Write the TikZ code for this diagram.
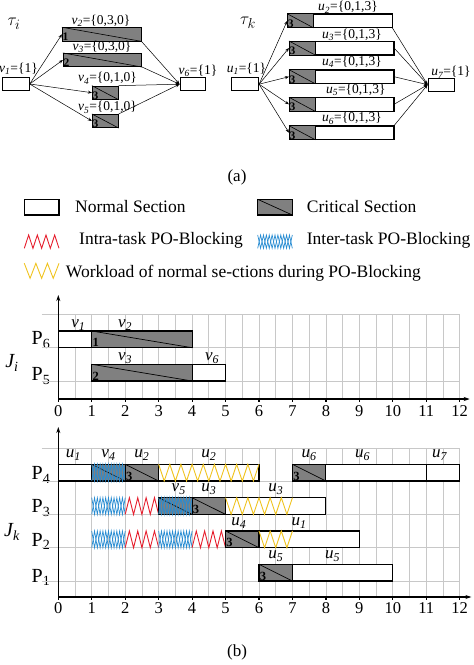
\documentclass[tikz,border=0pt]{standalone}
\usepackage{amsmath}
\usepackage{fontspec}
\setmainfont{Liberation Serif}
\usetikzlibrary{arrows.meta,calc}
\definecolor{critgray}{RGB}{128,128,128}
\definecolor{gridc}{RGB}{200,200,200}
\definecolor{zred}{RGB}{230,30,45}
\definecolor{zblue}{RGB}{40,140,210}
\definecolor{zyel}{RGB}{240,195,30}
\newcommand\iv[2]{$\textit{#1}_{\textit{#2}}$}
\newcommand\rp[2]{$\text{#1}_{\text{#2}}$}
\newcommand\fs[1]{\fontsize{#1}{#1}\selectfont}
\tikzset{
  dagbox/.style={draw, line width=0.8pt, fill=white, minimum height=13.3pt, inner sep=0pt},
  dagcrit/.style={dagbox, fill=critgray},
  edge/.style={line width=0.5pt, -{Stealth[length=4pt,width=3pt]}},
  daglab/.style={font=\fs{13.5}, inner sep=0pt},
  dagnum/.style={font=\bfseries\fs{11.5}, inner sep=0.4pt, anchor=south west},
  barline/.style={line width=1.1pt},
  gridl/.style={gridc, line width=0.8pt},
  axisl/.style={line width=1.2pt},
  barnum/.style={font=\bfseries\fs{12.5}, inner sep=0.6pt, anchor=south west},
  barlab/.style={font=\fs{17}, inner sep=0pt},
  ticklab/.style={font=\fs{16.5}, inner sep=0pt},
  rowlab/.style={font=\fs{20}, inner sep=0pt},
  leglab/.style={font=\fs{17.5}, inner sep=0pt, anchor=west},
  zr/.style={zred, line width=0.9pt},
  zb/.style={zblue, line width=0.7pt},
  zy/.style={zyel, line width=0.9pt},
}
% zigzag: style, x1, start y, other y, period, count
\newcommand\zz[6]{\draw[#1] (#2,#3) \foreach \k in {1,...,#6}{ -- ({#2+(\k-0.5)*#5},#4) -- ({#2+\k*#5},#3)};}
\newcommand\nbar[3]{\draw[barline, fill=white] (#1,#3) rectangle (#2,#3+16.7);}
\newcommand\cbar[4]{\fill[critgray] (#1,#3) rectangle (#2,#3+16.7);
  \draw[line width=0.7pt] (#1,#3) -- (#2,#3+16.7);
  \draw[barline] (#1,#3) rectangle (#2,#3+16.7);
  \node[barnum] at (#1,#3+16.7) {#4};}
\newcommand\bz[3]{\zz{zb}{#1}{#2}{#2+16.7}{0.166667}{#3}\zz{zb}{#1}{#2+16.7}{#2}{0.166667}{#3}}
\newcommand\rz[3]{\zz{zr}{#1}{#2+16.7}{#2}{0.25}{#3}}
\newcommand\yz[3]{\zz{zy}{#1}{#2}{#2+16.7}{0.333333}{#3}}
\begin{document}
\begin{tikzpicture}[x=1pt, y=-1pt]
\useasboundingbox (0,0) rectangle (474,665);
% ---------- (a) tau_i ----------
\node[font=\fs{19}, inner sep=0pt] (ti) at (14,24) {$\tau_i$};
\node[dagbox, minimum width=26.6pt] (v1) at (16,84) {};
\node[dagcrit, minimum width=78.7pt] (v2) at (101.7,34.3) {};
\node[dagcrit, minimum width=78.4pt] (v3) at (102.5,60) {};
\node[dagcrit, minimum width=26pt] (v4) at (105.3,92.7) {};
\node[dagcrit, minimum width=26pt] (v5) at (105.3,121) {};
\node[dagbox, minimum width=25.7pt] (v6) at (192.8,84.2) {};
\foreach \n/\m in {v2/1, v3/2, v4/3, v5/3}{
  \draw[line width=0.6pt] (\n.north west) -- (\n.south east);
  \node[dagnum] at (\n.south west) {\m};
}
\node[daglab] (lv1) at (18.5,69) {\iv{v}{1}=\{1\}};
\node[daglab] (lv2) at (101,20.7) {\iv{v}{2}=\{0,3,0\}};
\node[daglab] (lv3) at (102,46.7) {\iv{v}{3}=\{0,3,0\}};
\node[daglab] (lv4) at (107.5,78.3) {\iv{v}{4}=\{0,1,0\}};
\node[daglab] (lv5) at (107.5,107.3) {\iv{v}{5}=\{0,1,0\}};
\node[daglab] (lv6) at (198,71) {\iv{v}{6}=\{1\}};
\foreach \n in {v2,v3,v4,v5} \draw[edge] (v1.east) -- (\n.west);
\draw[edge] (v2.south east) -- (v6.west);
\draw[edge] (v3.south east) -- (v6.west);
\draw[edge] (v4.north east) -- (v6.west);
\draw[edge] (v5.north east) -- (v6.west);
% ---------- (a) tau_k ----------
\node[font=\fs{19}, inner sep=0pt] (tk) at (248,23) {$\tau_k$};
\node[dagbox, minimum width=27pt] (u1) at (245.2,84.2) {};
\node[dagbox, minimum width=26.3pt] (u7) at (441.2,84.7) {};
\foreach \n/\cx/\cy in {u2/339.8/20.8, u3/341.5/48, u4/341.5/76.7, u5/341.5/104.3, u6/341.5/132.7}{
  \node[dagbox, minimum width=104.3pt] (\n) at (\cx,\cy) {};
  \fill[critgray] (\n.north west) rectangle ($(\n.south west)!0.25!(\n.south east)$);
  \draw[line width=0.6pt] (\n.north west) -- ($(\n.south west)!0.25!(\n.south east)$);
  \draw[line width=0.8pt] ($(\n.north west)!0.25!(\n.north east)$) -- ($(\n.south west)!0.25!(\n.south east)$);
  \draw[line width=0.8pt] (\n.north west) rectangle (\n.south east);
  \node[dagnum] at (\n.south west) {3};
}
\node[daglab] (lu1) at (246.5,69) {\iv{u}{1}=\{1\}};
\node[daglab] (lu2) at (348,7.3) {\iv{u}{2}=\{0,1,3\}};
\node[daglab] (lu3) at (352,35) {\iv{u}{3}=\{0,1,3\}};
\node[daglab] (lu4) at (352,61.7) {\iv{u}{4}=\{0,1,3\}};
\node[daglab] (lu5) at (355.8,90) {\iv{u}{5}=\{0,1,3\}};
\node[daglab] (lu6) at (352,118.3) {\iv{u}{6}=\{0,1,3\}};
\node[daglab] (lu7) at (451,72.3) {\iv{u}{7}=\{1\}};
\foreach \n in {u2,u3,u4,u5,u6} \draw[edge] (u1.east) -- (\n.west);
\draw[edge] (u2.south east) -- (u7.west);
\draw[edge] (u3.east) -- (u7.west);
\draw[edge] (u4.east) -- (u7.west);
\draw[edge] (u5.east) -- (u7.west);
\draw[edge] (u6.north east) -- (u7.west);
\node[font=\fs{17}, inner sep=0pt] (capa) at (237,177) {(a)};
% ---------- legend ----------
\draw[barline, fill=white] (24.3,199.3) rectangle (59,215);
\node[leglab] (l1) at (75,206.7) {Normal Section};
\fill[critgray] (257.7,199.3) rectangle (292.3,215);
\draw[line width=0.7pt] (257.7,199.3) -- (292.3,215);
\draw[barline] (257.7,199.3) rectangle (292.3,215);
\node[leglab] (l2) at (306.7,206.7) {Critical Section};
\zz{zr}{24.3}{248.3}{235}{8.675}{4}
\node[leglab] (l3) at (79,240.7) {Intra-task PO-Blocking};
\zz{zb}{257.7}{235}{248.3}{5.77}{6}
\zz{zb}{257.7}{248.3}{235}{5.77}{6}
\node[leglab] (l4) at (306.7,240.7) {Inter-task PO-Blocking};
\zz{zy}{24.3}{263.3}{278.3}{11.57}{3}
\node[leglab] (l5) at (65.7,273.3) {Workload of normal se-ctions during PO-Blocking};
% ---------- chart J_i ----------
\node[rowlab] (ji) at (12,363) {\iv{J}{i}};
\node[rowlab] (p6) at (41,340) {\rp{P}{6}};
\node[rowlab] (p5) at (41,376) {\rp{P}{5}};
\begin{scope}[shift={(58.3,0)}, x=33.45pt]
  \foreach \q in {0.5,1,...,12} \draw[gridl] (\q,314) -- (\q,399);
  \foreach \yy in {314,347.7,381} \draw[gridl] (-0.5,\yy) -- (12,\yy);
  \nbar{0}{1}{331}
  \cbar{1}{4}{331}{1}
  \cbar{1}{4}{364.3}{2}
  \nbar{4}{5}{364.3}
  \node[barlab] at (0.6,325) {\iv{v}{1}};
  \node[barlab] at (2.0,325) {\iv{v}{2}};
  \node[barlab] at (2.0,358) {\iv{v}{3}};
  \node[barlab] at (4.6,358) {\iv{v}{6}};
  \draw[axisl, -{Stealth[length=6pt,width=4pt]}] (0,399) -- (0,295);
  \draw[axisl, -{Stealth[length=6pt,width=4pt]}] (0,399) -- (12.3,399);
  \foreach \q in {0,...,12}{
    \draw[axisl] (\q,399) -- (\q,402);
    \node[ticklab] at (\q,411) {\q};
  }
\end{scope}
% ---------- chart J_k ----------
\node[rowlab] (jk) at (12,532) {\iv{J}{k}};
\node[rowlab] (p4) at (41,475) {\rp{P}{4}};
\node[rowlab] (p3) at (41,508) {\rp{P}{3}};
\node[rowlab] (p2) at (41,541) {\rp{P}{2}};
\node[rowlab] (p1) at (41,577) {\rp{P}{1}};
\begin{scope}[shift={(58.3,0)}, x=33.45pt]
  \foreach \q in {0.5,1,...,12} \draw[gridl] (\q,448) -- (\q,597);
  \foreach \yy in {448,481,514.3,547.7,581} \draw[gridl] (-0.5,\yy) -- (12,\yy);
  % P4
  \nbar{0}{1}{464.3}
  \cbar{1}{2}{464.3}{}
  \bz{1}{464.3}{6}
  \cbar{2}{3}{464.3}{3}
  \nbar{3}{6}{464.3}
  \yz{3}{464.3}{9}
  \cbar{7}{8}{464.3}{3}
  \nbar{8}{11}{464.3}
  \nbar{11}{12}{464.3}
  % P3
  \bz{1}{497.7}{6}
  \rz{2}{497.7}{4}
  \cbar{3}{4}{497.7}{}
  \bz{3}{497.7}{6}
  \cbar{4}{5}{497.7}{3}
  \nbar{5}{8}{497.7}
  \yz{5}{497.7}{6}
  % P2
  \bz{1}{531}{6}
  \rz{2}{531}{4}
  \bz{3}{531}{6}
  \rz{4}{531}{4}
  \cbar{5}{6}{531}{3}
  \nbar{6}{9}{531}
  \yz{6}{531}{3}
  % P1
  \cbar{6}{7}{564.3}{3}
  \nbar{7}{10}{564.3}
  % labels
  \node[barlab] at (0.45,455) {\iv{u}{1}};
  \node[barlab] at (1.5,455) {\iv{v}{4}};
  \node[barlab] at (2.5,455) {\iv{u}{2}};
  \node[barlab] at (4.5,455) {\iv{u}{2}};
  \node[barlab] at (7.5,455) {\iv{u}{6}};
  \node[barlab] at (9.1,455) {\iv{u}{6}};
  \node[barlab] at (11.4,455) {\iv{u}{7}};
  \node[barlab] at (3.6,489) {\iv{v}{5}};
  \node[barlab] at (4.5,489) {\iv{u}{3}};
  \node[barlab] at (6.5,489) {\iv{u}{3}};
  \node[barlab] at (5.4,523) {\iv{u}{4}};
  \node[barlab] at (7.2,523) {\iv{u}{1}};
  \node[barlab] at (6.5,556) {\iv{u}{5}};
  \node[barlab] at (8.2,556) {\iv{u}{5}};
  \draw[axisl, -{Stealth[length=6pt,width=4pt]}] (0,597) -- (0,427);
  \draw[axisl, -{Stealth[length=6pt,width=4pt]}] (0,597) -- (12.35,597);
  \foreach \q in {0,...,12}{
    \draw[axisl] (\q,597) -- (\q,600);
    \node[ticklab] at (\q,608) {\q};
  }
\end{scope}
\node[font=\fs{17}, inner sep=0pt] (capb) at (237,652) {(b)};
\end{tikzpicture}
\end{document}
